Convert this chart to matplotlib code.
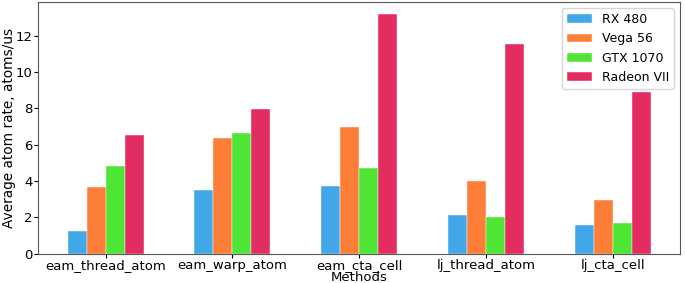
import numpy as np
import matplotlib
matplotlib.use('Agg')
from matplotlib import pyplot as plt

methods = ['eam_thread_atom', 'eam_warp_atom', 'eam_cta_cell', 'lj_thread_atom', 'lj_cta_cell']
gpus = ['RX 480', 'Vega 56', 'GTX 1070', 'Radeon VII']
rx480 = [1.23, 3.48, 3.74, 2.15, 1.58]
vega56 = [3.65, 6.35, 6.99, 4.00, 2.95]
gtx1070 = [4.83, 6.65, 4.73, 2.00, 1.71]
radeon7 = [6.53, 7.98, 13.2, 11.56, 8.92]
colors = ['#42a7e9', '#fd7f37', '#4ee535', '#e32d61']

fig, ax = plt.subplots(figsize=(6.85, 2.83), dpi=100)
x = np.arange(len(methods))
w = 0.15
for i, (vals, name) in enumerate(zip([rx480, vega56, gtx1070, radeon7], gpus)):
    ax.bar(x + (i - 1.5) * w, vals, w, color=colors[i], label=name,
           edgecolor='white', linewidth=0.3)

fs = 9.5
ax.set_xticks(x)
ax.set_xticklabels(methods, fontsize=fs)
ax.tick_params(axis='y', labelsize=fs)
ax.tick_params(axis='both', pad=1, length=3)
ax.set_xlabel('Methods', fontsize=fs, labelpad=-0.5)
ax.set_ylabel('Average atom rate, atoms/us', fontsize=9.8, labelpad=0)
ax.legend(fontsize=9, loc='upper right')
for s in ax.spines.values():
    s.set_color('#555555')

fig.subplots_adjust(left=0.056, right=0.993, top=0.993, bottom=0.104)
fig.savefig('out.png')
